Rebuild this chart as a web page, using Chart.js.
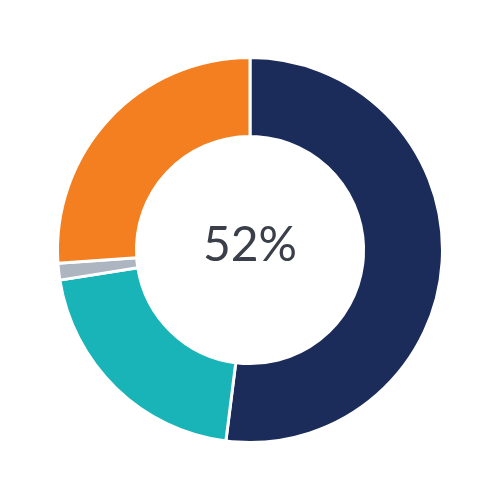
<!DOCTYPE html>
<html>
<head>
<meta charset="utf-8">
<script src="https://cdn.jsdelivr.net/npm/chart.js@4/dist/chart.umd.min.js"></script>
<style>
  html, body { margin: 0; padding: 0; background: #fff; }
  #wrap { width: 500px; height: 500px; }
</style>
</head>
<body>
<div id="wrap"><canvas id="donut"></canvas></div>
<script>
const labels = ['Navy', 'Teal', 'Gray', 'Orange'];
const values = [52, 20.5, 1.4, 26.1];
const colors = ['#1b2c5a', '#19b4b7', '#adb5c0', '#f37f21'];
const centerLabel = '52%';

// draws the big number in the hole
const centerText = {
    id: 'centerText',
    afterDraw(chart) {
        const meta = chart.getDatasetMeta(0);
        if (!meta.data.length) return;
        const arc = meta.data[0];
        const ctx = chart.ctx;
        ctx.save();
        ctx.font = '48px Lato';
        ctx.fillStyle = '#3a3f4a';
        ctx.textAlign = 'center';
        ctx.textBaseline = 'middle';
        ctx.fillText(centerLabel, arc.x, arc.y - 4);
        ctx.restore();
    }
};

new Chart(document.getElementById('donut'), {
    type: 'doughnut',
    data: {
        labels: labels,
        datasets: [{
            data: values,
            backgroundColor: colors,
            borderColor: '#ffffff',
            borderWidth: 3
        }]
    },
    options: {
        responsive: true,
        maintainAspectRatio: false,
        animation: false,
        cutout: '59%',
        layout: { padding: { top: 56, bottom: 56, left: 56, right: 56 } },
        plugins: {
            legend: { display: false },
            tooltip: { enabled: false }
        }
    },
    plugins: [centerText]
});
</script>
</body>
</html>
